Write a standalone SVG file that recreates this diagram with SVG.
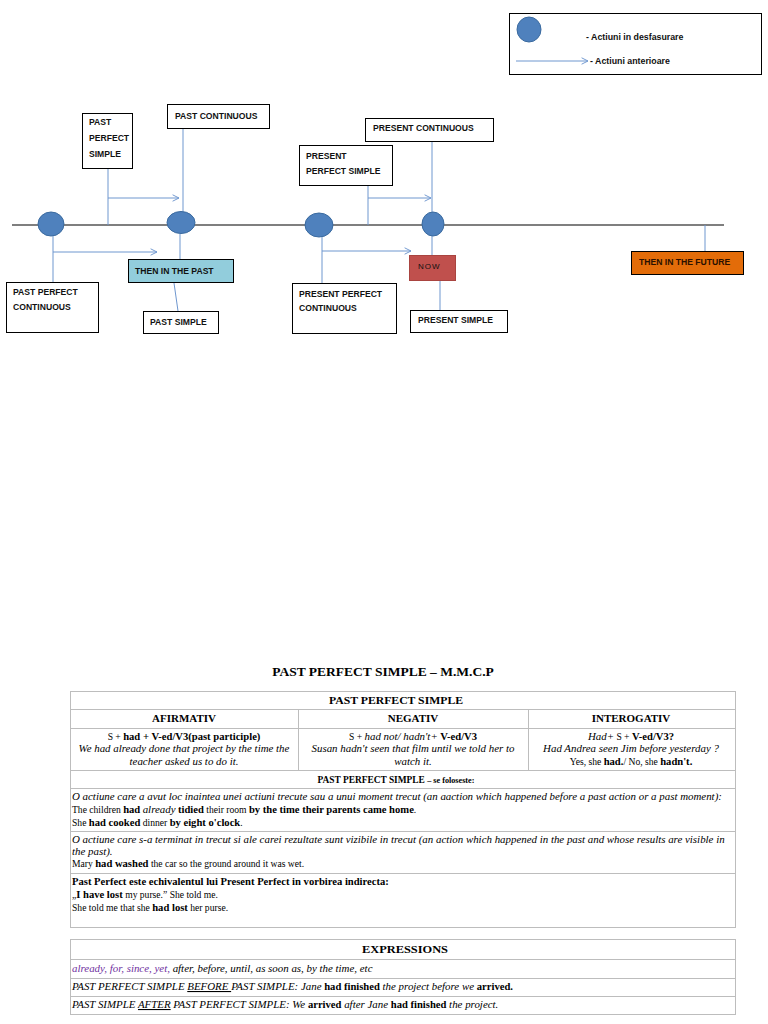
<svg xmlns="http://www.w3.org/2000/svg" width="768" height="1024" viewBox="0 0 768 1024">
<style>
.box{fill:#fff;stroke:#000;stroke-width:1}
.lbl{font-family:"Liberation Sans",Arial,sans-serif;font-weight:bold;font-size:8.6px;fill:#111}
.dot{fill:#4F81BD;stroke:#3A6A9F;stroke-width:1}
.con{stroke:#6F97CF;stroke-width:1;fill:none}
.tl{stroke:#555;stroke-width:1.5}
.tb{fill:none;stroke:#BDBDBD;stroke-width:1}
.t{font-family:"Liberation Serif","Times New Roman",serif;font-size:9.6px;fill:#000}
.b{font-weight:bold;font-size:10.6px}
.i{font-style:italic;font-size:10.9px}
.n{font-style:normal}
.c{text-anchor:middle}
</style>
<defs>
<marker id="ah" viewBox="0 0 10 10" refX="9" refY="5" markerWidth="8" markerHeight="8" orient="auto" markerUnits="userSpaceOnUse">
<path d="M1,1 L9,5 L1,9" fill="none" stroke="#6F97CF" stroke-width="1.2"/>
</marker>
</defs>
<rect width="768" height="1024" fill="#fff"/>

<g id="legend">
<rect x="509.5" y="13.5" width="252" height="61" class="box"/>
<ellipse cx="529" cy="29.5" rx="12" ry="12.5" class="dot"/>
<text x="586" y="40" class="lbl" style="font-size:8.8px">- Actiuni in desfasurare</text>
<line x1="516" y1="61" x2="588" y2="61" class="con" marker-end="url(#ah)"/>
<text x="590" y="64" class="lbl" style="font-size:8.8px">- Actiuni anterioare</text>
</g>

<g id="connectors">
<line x1="12" y1="225" x2="724" y2="225" class="tl"/>
<line x1="108" y1="168" x2="108" y2="225" class="con"/>
<line x1="108" y1="198" x2="179" y2="198" class="con" marker-end="url(#ah)"/>
<line x1="183" y1="128" x2="183" y2="212" class="con"/>
<line x1="53" y1="236" x2="53" y2="282" class="con"/>
<line x1="53" y1="252" x2="157" y2="252" class="con" marker-end="url(#ah)"/>
<line x1="180" y1="234" x2="180" y2="259" class="con"/>
<line x1="174" y1="283" x2="178" y2="311" class="con"/>
<line x1="432" y1="141" x2="432" y2="213" class="con"/>
<line x1="368" y1="185" x2="368" y2="225" class="con"/>
<line x1="368" y1="198" x2="431" y2="198" class="con" marker-end="url(#ah)"/>
<line x1="322" y1="237" x2="322" y2="283" class="con"/>
<line x1="322" y1="251" x2="411" y2="251" class="con" marker-end="url(#ah)"/>
<line x1="432" y1="236" x2="432" y2="255" class="con"/>
<line x1="440" y1="280" x2="440" y2="310" class="con"/>
<line x1="705" y1="225" x2="705" y2="251" class="con"/>
</g>

<g id="dot1"><ellipse cx="51" cy="224" rx="13" ry="12" class="dot"/></g>
<g id="dot2"><ellipse cx="181" cy="222.5" rx="14" ry="11" class="dot"/></g>
<g id="dot3"><ellipse cx="319" cy="225" rx="14" ry="12" class="dot"/></g>
<g id="dot4"><ellipse cx="433" cy="224" rx="11" ry="12" class="dot"/></g>

<g id="past-perfect-simple">
<rect x="82.5" y="113.5" width="50" height="55" class="box"/>
<text class="lbl" x="89" y="125">PAST</text>
<text class="lbl" x="89" y="141">PERFECT</text>
<text class="lbl" x="89" y="157">SIMPLE</text>
</g>
<g id="past-continuous">
<rect x="167.5" y="104.5" width="102" height="24" class="box"/>
<text class="lbl" x="175" y="119">PAST CONTINUOUS</text>
</g>
<g id="past-perfect-continuous">
<rect x="6.5" y="282.5" width="92" height="50" class="box"/>
<text class="lbl" x="13" y="295">PAST PERFECT</text>
<text class="lbl" x="13" y="310">CONTINUOUS</text>
</g>
<g id="then-in-the-past">
<rect x="128.5" y="259.5" width="105" height="23" fill="#92CDDC" stroke="#000"/>
<text class="lbl" x="135" y="274">THEN IN THE PAST</text>
</g>
<g id="past-simple">
<rect x="143.5" y="311.5" width="75" height="22" class="box"/>
<text class="lbl" x="150" y="325">PAST SIMPLE</text>
</g>
<g id="present-continuous">
<rect x="365.5" y="118.5" width="128" height="23" class="box"/>
<text class="lbl" x="373" y="131">PRESENT CONTINUOUS</text>
</g>
<g id="present-perfect-simple">
<rect x="299.5" y="145.5" width="93" height="40" class="box"/>
<text class="lbl" x="306" y="159">PRESENT</text>
<text class="lbl" x="306" y="174">PERFECT SIMPLE</text>
</g>
<g id="present-perfect-continuous">
<rect x="292.5" y="283.5" width="104" height="50" class="box"/>
<text class="lbl" x="299" y="297">PRESENT PERFECT</text>
<text class="lbl" x="299" y="311">CONTINUOUS</text>
</g>
<g id="now">
<rect x="409.5" y="255.5" width="46" height="25" fill="#C0504D" stroke="#A94440"/>
<text class="lbl" x="418" y="269" style="font-weight:normal;font-size:8px;letter-spacing:1px">NOW</text>
</g>
<g id="present-simple">
<rect x="410.5" y="310.5" width="97" height="22" class="box"/>
<text class="lbl" x="418" y="323">PRESENT SIMPLE</text>
</g>
<g id="then-in-the-future">
<rect x="631.5" y="251.5" width="112" height="23" fill="#E36C09" stroke="#000"/>
<text class="lbl" x="639" y="265" style="fill:#2a1000">THEN IN THE FUTURE</text>
</g>

<g id="table1">
<text class="t b c" x="383" y="676" style="font-size:13.5px">PAST PERFECT SIMPLE – M.M.C.P</text>
<rect x="70.5" y="691.5" width="665" height="236" class="tb"/>
<line x1="70" y1="709.5" x2="736" y2="709.5" class="tb"/>
<line x1="70" y1="728.5" x2="736" y2="728.5" class="tb"/>
<line x1="70" y1="770.5" x2="736" y2="770.5" class="tb"/>
<line x1="70" y1="788.5" x2="736" y2="788.5" class="tb"/>
<line x1="70" y1="831.5" x2="736" y2="831.5" class="tb"/>
<line x1="70" y1="873.5" x2="736" y2="873.5" class="tb"/>
<line x1="298.5" y1="709" x2="298.5" y2="770" class="tb"/>
<line x1="528.5" y1="709" x2="528.5" y2="770" class="tb"/>
<text class="t b c" x="396" y="704" textLength="134" lengthAdjust="spacingAndGlyphs">PAST PERFECT SIMPLE</text>
<text class="t b c" x="184" y="722" style="font-size:11px">AFIRMATIV</text>
<text class="t b c" x="413" y="722" style="font-size:11px">NEGATIV</text>
<text class="t b c" x="631" y="722" style="font-size:11px">INTEROGATIV</text>
<text class="t c" x="184" y="740">S + <tspan class="b">had + V-ed/V3(past participle)</tspan></text>
<text class="t c i" x="184" y="752">We had already done that project by the time the</text>
<text class="t c i" x="184" y="765">teacher asked us to do it.</text>
<text class="t c" x="413" y="740">S + <tspan class="i">had not/ hadn't+</tspan>  <tspan class="b">V-ed/V3</tspan></text>
<text class="t c i" x="413" y="752">Susan hadn't seen that film until we told her to</text>
<text class="t c i" x="413" y="765">watch it.</text>
<text class="t c" x="631" y="740"><tspan class="i">Had+</tspan> S +  <tspan class="b">V-ed/V3?</tspan></text>
<text class="t c i" x="631" y="752">Had Andrea seen Jim before yesterday ?</text>
<text class="t c" x="631" y="765">Yes, she <tspan class="b">had.</tspan>/ No, she <tspan class="b">hadn't.</tspan></text>
<text class="t b c" x="396" y="783" style="font-size:9.4px">PAST PERFECT SIMPLE <tspan style="font-size:8.2px">– se foloseste:</tspan></text>
<text class="t i" x="72" y="800">O actiune care a avut loc inaintea unei actiuni trecute sau a unui moment trecut (an aaction which happened before a past action or a past moment):</text>
<text class="t" x="72" y="813">The children <tspan class="b">had</tspan> <tspan class="i">already</tspan> <tspan class="b">tidied</tspan> their room <tspan class="b">by the time their parents came home</tspan>.</text>
<text class="t" x="72" y="826">She <tspan class="b">had cooked</tspan> dinner <tspan class="b">by eight o'clock</tspan>.</text>
<text class="t i" x="72" y="843">O actiune care s-a terminat in trecut si ale carei rezultate sunt vizibile in trecut (an action which happened in the past and whose results are visible in</text>
<text class="t i" x="72" y="855">the past).</text>
<text class="t" x="72" y="867">Mary <tspan class="b">had washed</tspan> the car so the ground around it was wet.</text>
<text class="t b" x="72" y="885">Past Perfect este echivalentul lui Present Perfect in vorbirea indirecta:</text>
<text class="t" x="72" y="898">„<tspan class="b">I have lost</tspan> my purse.” She told me.</text>
<text class="t" x="72" y="911">She told me that she <tspan class="b">had lost</tspan> her purse.</text>
</g>

<g id="table2">
<rect x="70.5" y="939.5" width="665" height="75" class="tb"/>
<line x1="70" y1="959.5" x2="736" y2="959.5" class="tb"/>
<line x1="70" y1="978.5" x2="736" y2="978.5" class="tb"/>
<line x1="70" y1="996.5" x2="736" y2="996.5" class="tb"/>
<text class="t b c" x="405" y="953" textLength="86" lengthAdjust="spacingAndGlyphs">EXPRESSIONS</text>
<text class="t i" x="72" y="972"><tspan fill="#7030A0">already, for, since, yet,</tspan> after, before, until, as soon as, by the time, etc</text>
<text class="t i" x="72" y="990">PAST PERFECT SIMPLE <tspan text-decoration="underline">BEFORE </tspan>PAST SIMPLE: Jane <tspan class="b n">had finished</tspan> the project before we <tspan class="b n">arrived.</tspan></text>
<text class="t i" x="72" y="1008">PAST SIMPLE <tspan text-decoration="underline">AFTER</tspan> PAST PERFECT SIMPLE: We <tspan class="b n">arrived</tspan> after Jane <tspan class="b n">had finished</tspan> the project.</text>
</g>
</svg>
